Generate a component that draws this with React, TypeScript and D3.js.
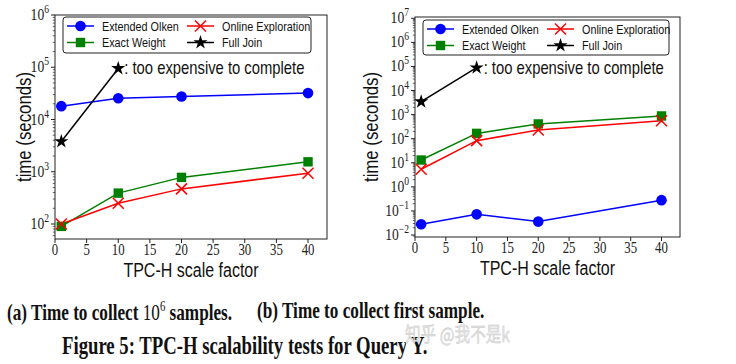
import React from 'react';
import * as d3 from 'd3';

// TPC-H scale factors on the x axis
const scaleFactors = [1, 10, 20, 40];
const fullJoinFactors = [1, 10];
const xTicks = [0, 5, 10, 15, 20, 25, 30, 35, 40];

// (a) time to collect 10^6 samples
const olkenA = [18000, 25500, 27500, 32000];
const exactA = [90, 390, 780, 1550];
const onlineA = [100, 250, 470, 940];
const fullA = [3800, 95000];

// (b) time to collect first sample
const olkenB = [0.028, 0.072, 0.036, 0.28];
const exactB = [13, 166, 410, 880];
const onlineB = [5.4, 83, 230, 560];
const fullB = [3450, 89000];

const leftYExps = [2, 3, 4, 5, 6];
const rightYExps = [-2, -1, 0, 1, 2, 3, 4, 5, 6, 7];

const seriesNames = ['Extended Olken', 'Exact Weight', 'Online Exploration', 'Full Join'];
const seriesColors = ['#0000ff', '#008000', '#ff0000', '#000000'];
const seriesMarkers = ['circle', 'square', 'x', 'star'];

const SX = 0.8; // glyphs in the source look horizontally squeezed
const tickFont = '"Liberation Serif", serif';
const sansFont = '"Liberation Sans", Arial, sans-serif';
const serifBold = '"Liberation Serif", "DejaVu Serif", serif';

const starPath = d3.symbol(d3.symbolStar, 62)() as string;

const Marker = ({ kind, color, x, y }: { kind: string; color: string; x: number; y: number }) => {
  const t = `translate(${x},${y})`;
  if (kind === 'circle') return <circle cx={x} cy={y} r={5.3} fill={color} />;
  if (kind === 'square') return <rect x={x - 4.7} y={y - 4.7} width={9.4} height={9.4} fill={color} />;
  if (kind === 'x')
    return <path transform={t} d="M-5.5,-5.5L5.5,5.5M-5.5,5.5L5.5,-5.5" stroke={color} strokeWidth={1.5} fill="none" />;
  return <path transform={t} d={starPath} fill={color} />;
};

const minus = (n: number) => (n < 0 ? '\u2212' + Math.abs(n) : String(n));

interface PanelProps {
  frame: { left: number; top: number; right: number; bottom: number };
  yDomain: [number, number];
  yExps: number[];
  values: number[][]; // olken, exact, online, full
  legend: { x: number; y: number; w: number; h: number };
  yLabelX: number;
  noteDx: number;
}

const Panel = ({ frame, yDomain, yExps, values, legend, yLabelX, noteDx }: PanelProps) => {
  const x = d3.scaleLinear().domain([0, 43]).range([frame.left, frame.right]);
  const y = d3.scaleLog().domain(yDomain).range([frame.bottom, frame.top]);
  const line = d3.line<[number, number]>().x(d => x(d[0])).y(d => y(d[1]));

  const minors: number[] = [];
  const e0 = Math.floor(Math.log10(yDomain[0]));
  const e1 = Math.ceil(Math.log10(yDomain[1]));
  for (let e = e0; e < e1; e++) {
    for (let m = 2; m <= 9; m++) {
      const v = m * Math.pow(10, e);
      if (v >= yDomain[0] && v <= yDomain[1]) minors.push(v);
    }
  }

  const series = values.map((vals, i) => {
    const xs = i === 3 ? fullJoinFactors : scaleFactors;
    return vals.map((v, j) => [xs[j], v] as [number, number]);
  });

  const cx = (frame.left + frame.right) / 2;
  const cy = (frame.top + frame.bottom) / 2;
  const star = series[3][1];

  return (
    <g>
      <rect x={frame.left} y={frame.top} width={frame.right - frame.left} height={frame.bottom - frame.top}
        fill="white" stroke="#222" strokeWidth={1} />
      {minors.map((v, i) => (
        <line key={'m' + i} x1={frame.left - 2.2} x2={frame.left} y1={y(v)} y2={y(v)} stroke="#222" strokeWidth={0.7} />
      ))}
      {yExps.map(e => (
        <g key={'y' + e}>
          <line x1={frame.left - 4} x2={frame.left} y1={y(Math.pow(10, e))} y2={y(Math.pow(10, e))} stroke="#222" strokeWidth={1} />
          <text transform={`translate(${frame.left - 6},${y(Math.pow(10, e)) + 5}) scale(${SX},1)`}
            textAnchor="end" fontFamily={tickFont} fontSize={17} fill="#222">
            10<tspan dy={-7} fontSize={12}>{minus(e)}</tspan>
          </text>
        </g>
      ))}
      {xTicks.map(t => (
        <g key={'x' + t}>
          <line x1={x(t)} x2={x(t)} y1={frame.bottom} y2={frame.bottom + 4} stroke="#222" strokeWidth={1} />
          <text transform={`translate(${x(t)},${frame.bottom + 16}) scale(${SX},1)`}
            textAnchor="middle" fontFamily={tickFont} fontSize={16} fill="#222">{t}</text>
        </g>
      ))}
      <text transform={`translate(${cx},${frame.bottom + 38}) scale(${SX},1)`} textAnchor="middle"
        fontFamily={sansFont} fontSize={20} fill="#111">TPC-H scale factor</text>
      <text transform={`translate(${yLabelX},${cy}) rotate(-90) scale(${SX},1)`} textAnchor="middle"
        fontFamily={sansFont} fontSize={21} fill="#111">time (seconds)</text>

      {series.map((pts, i) => (
        <path key={'l' + i} d={line(pts) as string} fill="none" stroke={seriesColors[i]} strokeWidth={1.5} />
      ))}
      {series.map((pts, i) =>
        pts.map((p, j) => <Marker key={`p${i}-${j}`} kind={seriesMarkers[i]} color={seriesColors[i]} x={x(p[0])} y={y(p[1])} />)
      )}

      <text transform={`translate(${x(star[0]) + noteDx},${y(star[1]) + 6}) scale(${SX},1)`}
        fontFamily={sansFont} fontSize={18.5} fill="#111">: too expensive to complete</text>

      <rect x={legend.x} y={legend.y} width={legend.w} height={legend.h} rx={3} fill="white" stroke="#222" strokeWidth={1} />
      {seriesNames.map((name, i) => {
        const col = i < 2 ? 0 : 1;
        const row = i % 2;
        const hx = legend.x + 4 + col * 120;
        const hy = legend.y + 9 + row * 16.5;
        return (
          <g key={'lg' + i}>
            <line x1={hx} x2={hx + 27} y1={hy} y2={hy} stroke={seriesColors[i]} strokeWidth={1.5} />
            <Marker kind={seriesMarkers[i]} color={seriesColors[i]} x={hx + 13.5} y={hy} />
            <text transform={`translate(${hx + 35},${hy + 4.5}) scale(${SX},1)`} fontFamily={sansFont}
              fontSize={13.5} fill="#111">{name}</text>
          </g>
        );
      })}
    </g>
  );
};

export default function App() {
  return (
    <div>
      <style>{'body{margin:0;background:#fff}'}</style>
      <svg width={736} height={364} style={{ display: 'block' }}>
        <rect width={736} height={364} fill="white" />
        <Panel
          frame={{ left: 55, top: 15, right: 327, bottom: 239 }}
          yDomain={[Math.pow(10, 1.713), 1e6]}
          yExps={leftYExps}
          values={[olkenA, exactA, onlineA, fullA]}
          legend={{ x: 63, y: 17, w: 248, h: 36 }}
          yLabelX={31}
          noteDx={6}
        />
        <Panel
          frame={{ left: 415, top: 17, right: 680, bottom: 237 }}
          yDomain={[Math.pow(10, -2.083), Math.pow(10, 7.054)]}
          yExps={rightYExps}
          values={[olkenB, exactB, onlineB, fullB]}
          legend={{ x: 423, y: 20, w: 246, h: 35 }}
          yLabelX={378}
          noteDx={7}
        />

        <text transform="translate(7,320) scale(0.716,1)" fontFamily={serifBold}
          fontSize={24} fontWeight="bold" fill="#111">
          (a) Time to collect <tspan fontWeight="normal">10</tspan>
          <tspan fontWeight="normal" fontSize={15} dy={-9}>6</tspan>
          <tspan dy={9}> samples.</tspan>
        </text>
        <text transform="translate(257,318) scale(0.716,1)" fontFamily={serifBold}
          fontSize={24} fontWeight="bold" fill="#111">(b) Time to collect first sample.</text>
        <text transform="translate(62,354) scale(0.72,1)" fontFamily={serifBold}
          fontSize={26} fontWeight="bold" fill="#111">Figure 5: TPC-H scalability tests for Query Y.</text>
        <text x={405} y={342} textLength={105} lengthAdjust="spacingAndGlyphs"
          fontFamily={'"Noto Sans CJK SC", sans-serif'} fontSize={20} fill="#e2e2e2"
          stroke="#c8c8c8" strokeWidth={0.4}>知乎 @我不是k</text>
      </svg>
    </div>
  );
}
